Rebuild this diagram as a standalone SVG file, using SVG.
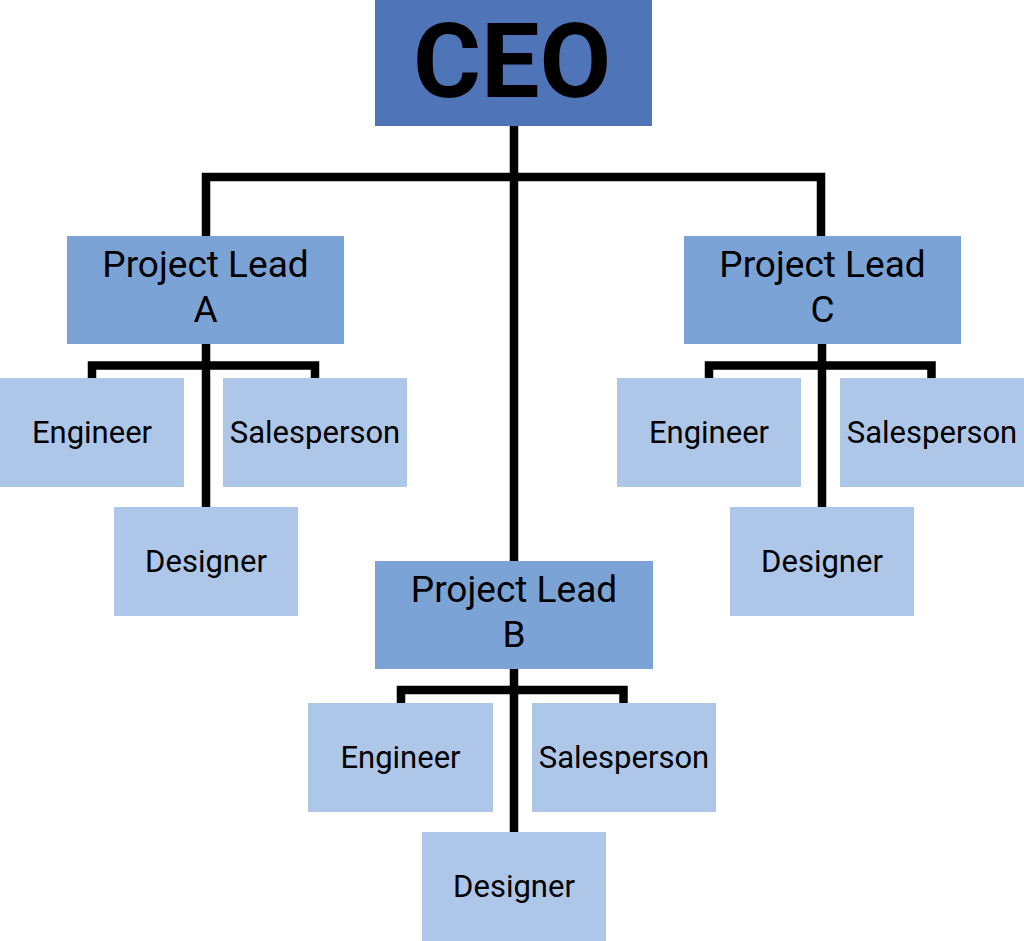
<svg xmlns="http://www.w3.org/2000/svg" width="1024" height="941" viewBox="0 0 1024 941">
<style>
.ceo{fill:#4f74b8}
.lead{fill:#7ba3d6}
.role{fill:#aec6e7}
text{font-family:Roboto,"Liberation Sans",sans-serif;fill:#000;text-anchor:middle}
.t-ceo{font-size:104px;font-weight:700}
.t-lead{font-size:37px;font-weight:400}
.t-role{font-size:31px;font-weight:400}
.link{fill:none;stroke:#000;stroke-width:8.5;stroke-linejoin:miter;stroke-linecap:butt}
</style>
<rect width="1024" height="941" fill="#ffffff"/>
<g id="connectors">
<path class="link" d="M514 126V561"/>
<path class="link" d="M206 236V177H821V236"/>
<path class="link" d="M206 344V507"/>
<path class="link" d="M92 378V365.5H315V378"/>
<path class="link" d="M822 344V507"/>
<path class="link" d="M709 378V365.5H931.5V378"/>
<path class="link" d="M514 669V832"/>
<path class="link" d="M401 703V690H623.5V703"/>
</g>
<g id="ceo"><rect class="ceo" x="375" y="0" width="277" height="126"/><text class="t-ceo" x="512" y="97">CEO</text></g>
<g id="lead-a"><rect class="lead" x="67" y="236" width="277" height="108"/><text class="t-lead" x="205.5" y="277">Project Lead</text><text class="t-lead" x="205.5" y="322">A</text></g>
<g id="lead-c"><rect class="lead" x="684" y="236" width="277" height="108"/><text class="t-lead" x="822.5" y="277">Project Lead</text><text class="t-lead" x="822.5" y="322">C</text></g>
<g id="lead-b"><rect class="lead" x="375" y="561" width="278" height="108"/><text class="t-lead" x="514" y="602">Project Lead</text><text class="t-lead" x="514" y="647">B</text></g>
<g id="engineer-a"><rect class="role" x="0" y="378" width="184" height="109"/><text class="t-role" x="92" y="443">Engineer</text></g>
<g id="salesperson-a"><rect class="role" x="223" y="378" width="184" height="109"/><text class="t-role" x="315" y="443">Salesperson</text></g>
<g id="designer-a"><rect class="role" x="114" y="507" width="184" height="109"/><text class="t-role" x="206" y="572">Designer</text></g>
<g id="engineer-c"><rect class="role" x="617" y="378" width="184" height="109"/><text class="t-role" x="709" y="443">Engineer</text></g>
<g id="salesperson-c"><rect class="role" x="840" y="378" width="184" height="109"/><text class="t-role" x="932" y="443">Salesperson</text></g>
<g id="designer-c"><rect class="role" x="730" y="507" width="184" height="109"/><text class="t-role" x="822" y="572">Designer</text></g>
<g id="engineer-b"><rect class="role" x="308" y="703" width="185" height="109"/><text class="t-role" x="400.5" y="768">Engineer</text></g>
<g id="salesperson-b"><rect class="role" x="532" y="703" width="184" height="109"/><text class="t-role" x="624" y="768">Salesperson</text></g>
<g id="designer-b"><rect class="role" x="422" y="832" width="184" height="109"/><text class="t-role" x="514" y="897">Designer</text></g>
</svg>
